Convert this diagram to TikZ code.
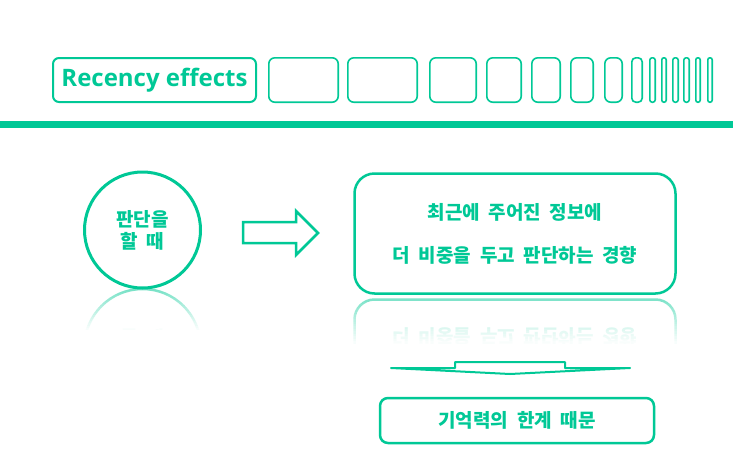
\documentclass[tikz,border=0pt]{standalone}
\usepackage{fontspec}
\usepackage{xcolor}
\setmainfont{Noto Sans CJK KR}[WordSpace=2]
\newfontfamily\enfont{Open Sans}
\definecolor{recgreen}{RGB}{0,200,150}

\begin{document}
\begin{tikzpicture}[x=1pt, y=-1pt,
	box/.style={draw=recgreen, line width=2pt, rounded corners=6pt, inner sep=0pt},
	kr/.style={text=recgreen, font=\bfseries\fontsize{19}{22}\selectfont},
	refl/.style={draw=recgreen!55, line width=2.5pt, inner sep=0pt},
	veil/.style={fill=white, fill opacity=#1}]
	\useasboundingbox (0,0) rectangle (740,472);
	% reflections
	\node[refl, circle, minimum size=116pt] (judgerefl) at (142.5,347) {};
	\node[kr, text=recgreen!40] (judgetxt) at (142.5,347) {\scalebox{1}[-1]{\begin{tabular}{@{}c@{}}판단을\\할 때\end{tabular}}};
	\node[refl, rounded corners=20pt, minimum width=321pt, minimum height=120pt] (tendrefl) at (515,359.5) {};
	\node[kr, text=recgreen!40, font=\bfseries\fontsize{19}{43}\selectfont] (tendtxt) at (515,359.5) {\scalebox{1}[-1]{\begin{tabular}{@{}c@{}}최근에 주어진 정보에\\더 비중을 두고 판단하는 경향\end{tabular}}};
	\foreach \k in {0,...,19} {
		\fill[veil=(\k+1)/20] (70,289+\k*2.15) rectangle (215,289+\k*2.15+2.15);
		\fill[veil=(\k+1)/20] (340,297+\k*2.45) rectangle (690,297+\k*2.45+2.45);
	}
	\fill[white] (70,332) rectangle (215,410);
	\fill[white] (340,346) rectangle (690,422);
	% top row
	\node[box, minimum width=203pt, minimum height=44pt, text=recgreen, font=\enfont\bfseries\fontsize{24}{24}\selectfont] (recency) at (154.5,80) {Recency effects};
	\foreach \l/\r [count=\i] in {268/339, 347/418, 429/477, 486/522, 531/561, 570/594, 604/623, 631/643, 649/656, 661/667, 672/679, 683/690, 695/701, 707/713}
		\node[box, line width=1.6pt, rounded corners={min(6,(\r-\l)/3)*1pt}, minimum width={(\r-\l-1.6)*1pt}, minimum height=44.4pt] (cell\i) at ({(\l+\r)/2},80) {};
	\fill[recgreen] (0,121) rectangle (733,128);
	% judgement
	\node[circle, draw=recgreen, line width=3pt, minimum size=116pt, kr, align=center] (judge) at (142.5,230) {판단을\\할 때};
	\draw[recgreen, line width=2.5pt, fill=white] (243,222) -- (296,222) -- (296,211) -- (318,233) -- (296,255) -- (296,243) -- (243,243) -- cycle;
	\node[box, line width=2.5pt, rounded corners=20pt, minimum width=321pt, minimum height=120pt, kr, align=center, font=\bfseries\fontsize{19}{43}\selectfont] (tendency) at (515,233.5) {최근에 주어진 정보에\\더 비중을 두고 판단하는 경향};
	\draw[recgreen, line width=2pt, fill=white, line join=round] (455,368) -- (455,362) -- (565,362) -- (565,368) -- (630,368) -- (510,374) -- (391,368) -- cycle;
	\node[box, line width=2.5pt, rounded corners=8pt, minimum width=274pt, minimum height=45pt, kr] (cause) at (517,420.5) {기억력의 한계 때문};
\end{tikzpicture}
\end{document}
